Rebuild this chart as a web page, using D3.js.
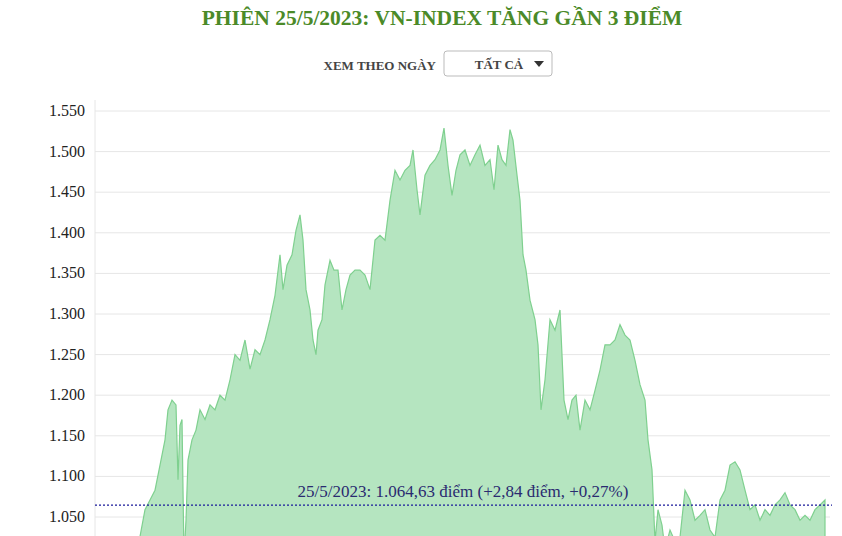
<!DOCTYPE html><html><head><meta charset="utf-8"><script src="https://cdn.jsdelivr.net/npm/d3@7"></script>
<style>body{margin:0;background:#fff;font-family:"Liberation Serif","DejaVu Serif",serif}</style></head><body><svg id="c" width="842" height="536"></svg>
<script>
const days=[140,145,150,155,160,165,168,172,176,178,180,182,184,186,188,192,196,200,205,210,215,220,225,230,235,240,245,250,255,260,265,270,275,280,283,287,292,296,300,303,306,310,313,316,318,322,325,330,334,338,342,346,350,355,360,365,370,375,380,385,390,395,400,405,410,413,417,420,425,430,435,440,444,448,452,456,460,465,470,475,480,485,490,494,498,502,506,510,513,517,520,523,526,530,535,538,541,545,550,555,560,564,568,572,576,580,585,590,595,600,605,610,615,620,625,630,635,640,645,648,652,655,658,662,665,670,675,680,685,690,695,700,705,710,715,720,725,730,735,740,745,750,755,760,765,770,775,780,785,790,795,800,805,810,815,820,825];
const values=[1026,1059,1071,1083,1114,1145,1182,1194,1188,1096,1163,1170,1000,1046,1120,1145,1157,1182,1170,1188,1182,1200,1194,1219,1250,1243,1268,1232,1256,1250,1268,1293,1323,1373,1330,1360,1373,1403,1422,1391,1330,1305,1268,1250,1280,1293,1336,1366,1354,1354,1305,1330,1348,1354,1354,1348,1330,1391,1397,1391,1440,1477,1465,1477,1483,1502,1453,1422,1471,1483,1490,1502,1529,1483,1446,1477,1496,1502,1483,1496,1508,1483,1490,1453,1508,1490,1483,1527,1514,1471,1440,1373,1354,1317,1293,1262,1182,1219,1293,1280,1305,1194,1170,1194,1200,1157,1194,1182,1206,1231,1262,1262,1268,1287,1274,1268,1243,1213,1194,1145,1108,1020,1059,1040,1010,1034,1020,1025,1083,1071,1046,1052,1059,1034,1025,1071,1083,1114,1118,1108,1083,1059,1065,1046,1059,1052,1065,1071,1080,1065,1059,1046,1052,1046,1059,1065,1071];
const yTicks=[1050,1100,1150,1200,1250,1300,1350,1400,1450,1500,1550];
const lastValue=1064.63;
const label="25/5/2023: 1.064,63 điểm (+2,84 điểm, +0,27%)";
const svg=d3.select("#c");
const x=d3.scaleLinear().domain([95,830]).range([95,830]);
const y=d3.scaleLinear().domain([1050,1550]).range([517,111]);
const fmt=v=>d3.format(",")(v).replace(/,/g,".");
svg.append("text").attr("x",442).attr("y",25).attr("text-anchor","middle").attr("fill","#4b8a28").attr("font-weight","bold").attr("font-size",21.5).text("PHIÊN 25/5/2023: VN-INDEX TĂNG GẦN 3 ĐIỂM");
svg.append("text").attr("x",436).attr("y",70).attr("text-anchor","end").attr("fill","#444").attr("font-weight","bold").attr("font-size",13).text("XEM THEO NGÀY");
svg.append("rect").attr("x",444).attr("y",51).attr("width",108).attr("height",25).attr("rx",3).attr("fill","#fff").attr("stroke","#bbb");
svg.append("text").attr("x",499).attr("y",69).attr("text-anchor","middle").attr("fill","#444").attr("font-weight","bold").attr("font-size",13).text("TẤT CẢ");
svg.append("path").attr("d","M534,61 L544,61 L539,67 Z").attr("fill","#333");
const g=svg.append("g");
g.selectAll("line.g").data(yTicks).join("line").attr("x1",95).attr("x2",830).attr("y1",d=>y(d)).attr("y2",d=>y(d)).attr("stroke","#e6e6e6");
g.append("line").attr("x1",95).attr("x2",95).attr("y1",100).attr("y2",536).attr("stroke","#e6e6e6");
g.selectAll("text.t").data(yTicks).join("text").attr("x",85).attr("y",d=>y(d)+5).attr("text-anchor","end").attr("font-size",16).attr("fill","#222").text(fmt);
const pts=days.map((d,i)=>[d,values[i]]);
g.append("path").datum(pts).attr("fill","#b5e5c0").attr("stroke","#7fd08f").attr("stroke-width",1.2)
 .attr("d",d3.area().x(d=>x(d[0])).y0(600).y1(d=>y(d[1])));
g.append("line").attr("x1",95).attr("x2",832).attr("y1",y(lastValue)).attr("y2",y(lastValue)).attr("stroke","#1a1a9a").attr("stroke-width",1.3).attr("stroke-dasharray","2,2");
g.append("text").attr("x",463).attr("y",y(lastValue)-8).attr("text-anchor","middle").attr("font-size",17).attr("fill","#2a2a70").text(label);
</script></body></html>
